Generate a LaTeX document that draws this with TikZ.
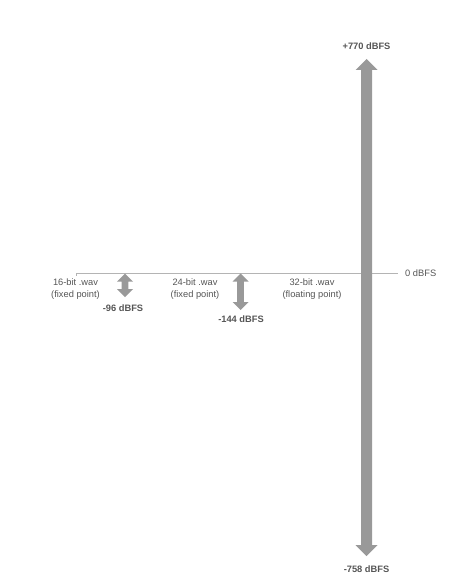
\documentclass[tikz,border=0pt]{standalone}
\usepackage{fontspec}
\setmainfont{Liberation Sans}
\definecolor{txtgray}{HTML}{555555}
\definecolor{arrgray}{HTML}{999999}
\definecolor{linegray}{HTML}{B4B4B4}
\newcommand{\mydarrow}[6]{%
  \fill[arrgray] (#1,#2) -- (#1+#5,#2+#6) -- (#1+#4,#2+#6) -- (#1+#4,#3-#6) -- (#1+#5,#3-#6)
    -- (#1,#3) -- (#1-#5,#3-#6) -- (#1-#4,#3-#6) -- (#1-#4,#2+#6) -- (#1-#5,#2+#6) -- cycle;}
\tikzset{
  lbl/.style={text=txtgray, font=\fontsize{9.3}{12}\selectfont, align=center, inner sep=0pt},
  val/.style={lbl, font=\fontsize{9.3}{12}\selectfont\bfseries},
}
\begin{document}
\begin{tikzpicture}[x=1pt,y=-1pt]
\useasboundingbox (0,0) rectangle (474,583);
% horizontal 0 dBFS line
\coordinate (l0) at (76,273);
\coordinate (l1) at (398,273);
\draw[linegray, line width=1pt] (76,275.5) -- (l0) -- (l1);
% arrows
\mydarrow{125}{273.5}{297}{3.3}{8}{8}
\mydarrow{240.5}{273.5}{310}{3.3}{8}{8}
\mydarrow{366.5}{59}{556}{5.5}{11}{11}
% labels
\node[val] (top) at (366.5,46) {+770 dBFS};
\node[val] (bot) at (366.5,569) {-758 dBFS};
\node[lbl, anchor=west] (zero) at (405,273) {0 dBFS};
\node[lbl] (w16) at (75.5,289) {16-bit .wav\\(fixed point)};
\node[lbl] (w24) at (195,289) {24-bit .wav\\(fixed point)};
\node[lbl] (w32) at (312,289) {32-bit .wav\\(floating point)};
\node[val] (v96) at (123,308) {-96 dBFS};
\node[val] (v144) at (241,319.5) {-144 dBFS};
\end{tikzpicture}
\end{document}
